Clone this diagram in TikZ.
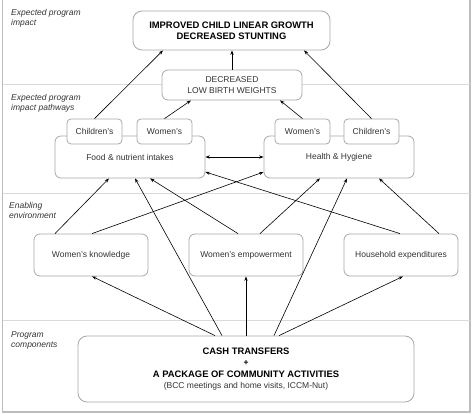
\documentclass[tikz,border=0pt]{standalone}
\usepackage{fontspec}
\setmainfont{Liberation Sans}
\usetikzlibrary{arrows.meta}
\definecolor{boxgray}{HTML}{A8A8A8}
\definecolor{sepgray}{HTML}{DADADA}
\definecolor{framegray}{HTML}{BDBDBD}
\definecolor{txtgray}{HTML}{333333}
\tikzset{
  box/.style={draw=boxgray, line width=0.8pt, fill=white, rounded corners=6pt, inner sep=0pt, align=center, text=txtgray, font=\fontsize{8.5}{11}\selectfont},
  bigbox/.style={box, rounded corners=9pt},
  tab/.style={box, rounded corners=4pt, minimum width=55pt, minimum height=25pt},
  lev/.style={anchor=north west, align=left, inner sep=0pt, text=txtgray, font=\fontsize{8.5}{10.5}\selectfont\itshape},
  arr/.style={-{Stealth[length=4.5pt,width=3.2pt]}, line width=0.6pt, black},
  darr/.style={{Stealth[length=4.5pt,width=3.2pt]}-{Stealth[length=4.5pt,width=3.2pt]}, line width=0.6pt, black},
  sep/.style={draw=sepgray, line width=0.9pt},
  frame/.style={draw=framegray, line width=1.2pt}
}
\begin{document}
\begin{tikzpicture}[x=1pt,y=-1pt]
\useasboundingbox (0,0) rectangle (474,414);
% frame
\draw[frame] (2.5,0) -- (2.5,412) -- (470,412) -- (470,0);
% separators
\draw[sep] (3,84) -- (470,84);
\draw[sep] (3,193) -- (470,193);
\draw[sep] (3,320) -- (470,320);
% level labels
\node[lev] (l1) at (11,9) {Expected program\\impact};
\node[lev] (l2) at (11,94) {Expected program\\impact pathways};
\node[lev] (l3) at (9,202) {Enabling\\environment};
\node[lev] (l4) at (11,331) {Program\\components};
% boxes
\node[bigbox, minimum width=197pt, minimum height=39pt, text=black, font=\fontsize{9.4}{11}\selectfont\bfseries] (top) at (231.5,30.5) {IMPROVED CHILD LINEAR GROWTH\\DECREASED STUNTING};
\node[box, minimum width=140pt, minimum height=30pt] (lbw) at (232,85) {DECREASED\\LOW BIRTH WEIGHTS};
\node[box, minimum width=150pt, minimum height=42pt] (food) at (130,157) {\raisebox{-3pt}{Food \& nutrient intakes}};
\node[box, minimum width=150pt, minimum height=42pt] (health) at (339,157) {\raisebox{-3pt}{Health \& Hygiene}};
\node[tab] (chL) at (94.5,131.5) {Children's};
\node[tab] (woL) at (164.5,131.5) {Women's};
\node[tab] (woR) at (302.5,131.5) {Women's};
\node[tab] (chR) at (371.5,131.5) {Children's};
\node[box, minimum width=114pt, minimum height=42pt] (know) at (91,255) {Women's knowledge};
\node[box, minimum width=114pt, minimum height=42pt] (emp) at (246,255) {Women's empowerment};
\node[box, minimum width=114pt, minimum height=42pt] (hh) at (401,255) {Household expenditures};
\node[bigbox, minimum width=336pt, minimum height=66pt, font=\fontsize{8.5}{11.5}\selectfont] (bot) at (246,369) {{\color{black}\fontsize{9.4}{11.5}\selectfont\bfseries CASH TRANSFERS}\\{\color{black}\bfseries +}\\{\color{black}\fontsize{9.4}{11.5}\selectfont\bfseries A PACKAGE OF COMMUNITY ACTIVITIES}\\(BCC meetings and home visits, ICCM-Nut)};
% arrows upper part
\draw[arr] (chL.north) -- ([xshift=-68.5pt]top.south);
\draw[arr] (woL.north) -- ([xshift=-41pt]lbw.south);
\draw[arr] (lbw.north) -- (lbw.north |- top.south);
\draw[arr] (woR.north) -- ([xshift=48pt]lbw.south);
\draw[arr] (chR.north) -- ([xshift=72.5pt]top.south);
\draw[darr] (food.east) -- (health.west);
% enabling -> pathways
\draw[arr] ([xshift=-36pt]know.north) -- ([xshift=-21pt]food.south);
\draw[arr] ([xshift=1pt]know.north) -- ([yshift=-15pt]health.west);
\draw[arr] ([xshift=-8pt]emp.north) -- ([xshift=20pt]food.south);
\draw[arr] ([xshift=14pt]emp.north) -- ([xshift=-19pt]health.south);
\draw[arr] ([xshift=-1pt]hh.north) -- ([yshift=-15pt]food.east);
\draw[arr] ([xshift=38pt]hh.north) -- ([xshift=40pt]health.south);
% program -> everything
\draw[arr] ([xshift=-24pt]bot.north) -- ([xshift=5pt]food.south);
\draw[arr] ([xshift=28pt]bot.north) -- ([xshift=8pt]health.south);
\draw[arr] ([xshift=-31pt]bot.north) -- ([xshift=1pt]know.south);
\draw[arr] (bot.north) -- (emp.south);
\draw[arr] ([xshift=33pt]bot.north) -- ([xshift=2pt]hh.south);
\end{tikzpicture}
\end{document}
